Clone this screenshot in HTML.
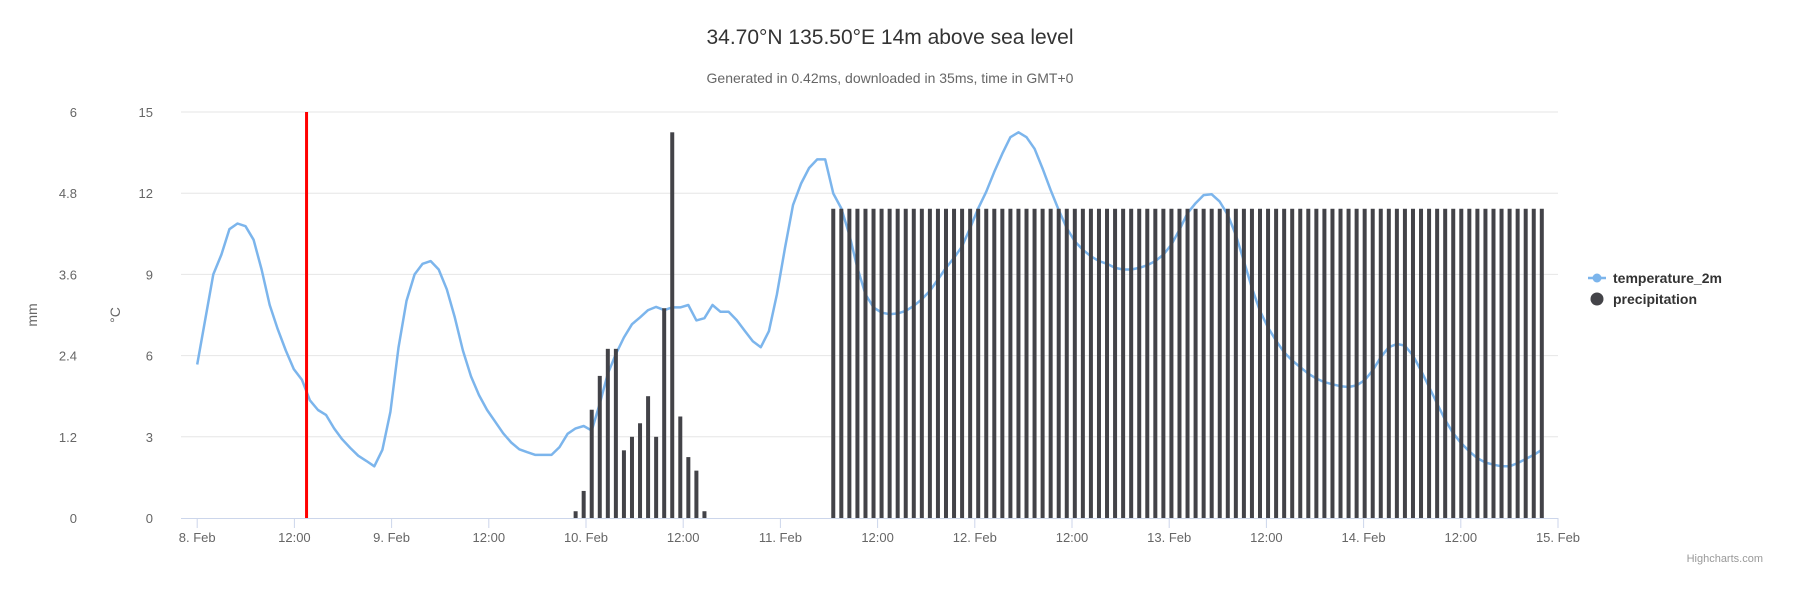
<!DOCTYPE html>
<html><head><meta charset="utf-8">
<style>
body{margin:0;background:#fff;}
svg{display:block;font-family:"Liberation Sans",sans-serif;}
</style></head>
<body>
<svg id="chart" width="1805" height="595" viewBox="0 0 1805 595" xmlns="http://www.w3.org/2000/svg">
<text x="890" y="44" text-anchor="middle" font-size="21" fill="#333">34.70°N 135.50°E 14m above sea level</text>
<text x="890" y="83" text-anchor="middle" font-size="14" fill="#666">Generated in 0.42ms, downloaded in 35ms, time in GMT+0</text>
<g id="grid"></g>
<g id="temp"></g>
<g id="bars"></g>
<g id="axes"></g>
<text transform="translate(37,315) rotate(-90)" text-anchor="middle" font-size="14" fill="#666">mm</text>
<text transform="translate(120,315) rotate(-90)" text-anchor="middle" font-size="14" fill="#666">°C</text>
<g>
<g>
<line x1="1588" y1="278" x2="1606" y2="278" stroke="#7cb5ec" stroke-width="2.5"/>
<circle cx="1597" cy="278" r="4.5" fill="#7cb5ec"/>
<text x="1613" y="283" font-size="14" font-weight="bold" fill="#333">temperature_2m</text>
</g>
<g>
<circle cx="1597" cy="299" r="6.5" fill="#434348"/>
<text x="1613" y="304" font-size="14" font-weight="bold" fill="#333">precipitation</text>
</g>
</g>
<text x="1763" y="562" text-anchor="end" font-size="11" fill="#999">Highcharts.com</text>
</svg>
<script>
const tempValues=[5.67,7.35,9.0,9.73,10.67,10.88,10.78,10.28,9.18,7.87,6.98,6.19,5.5,5.11,4.35,3.99,3.81,3.31,2.91,2.59,2.3,2.11,1.91,2.52,
3.92,6.3,8.02,9.0,9.39,9.49,9.18,8.45,7.41,6.19,5.23,4.54,3.99,3.56,3.13,2.79,2.54,2.43,2.33,2.33,2.33,2.62,3.11,3.31,
3.4,3.23,4.23,5.33,6.06,6.67,7.16,7.41,7.68,7.8,7.68,7.78,7.78,7.87,7.3,7.38,7.87,7.62,7.62,7.31,6.92,6.53,6.31,6.9,
8.26,9.98,11.56,12.36,12.93,13.25,13.25,11.99,11.44,10.46,9.24,8.26,7.78,7.59,7.53,7.56,7.65,7.84,8.08,8.39,8.81,9.24,9.61,10.04,
10.71,11.44,12.05,12.79,13.46,14.07,14.25,14.07,13.64,12.91,12.11,11.38,10.71,10.22,9.91,9.67,9.49,9.39,9.24,9.18,9.18,9.24,9.34,9.49,
9.73,10.1,10.65,11.26,11.63,11.93,11.96,11.69,11.2,10.46,9.49,8.5,7.65,7.04,6.55,6.12,5.82,5.57,5.33,5.15,5.02,4.94,4.87,4.84,
4.9,5.09,5.45,5.94,6.31,6.43,6.37,6.0,5.45,4.84,4.23,3.62,3.13,2.76,2.46,2.21,2.05,1.97,1.91,1.91,2.03,2.18,2.33,2.52];
const precipHours=[47,48,49,50,51,52,53,54,55,56,57,58,59,60,61,62,63];
const precipValues=[0.1,0.4,1.6,2.1,2.5,2.5,1.0,1.2,1.4,1.8,1.2,3.1,5.7,1.5,0.9,0.7,0.1];
const denseStart=79, denseEnd=167, denseValue=4.57;
const tempTicks=[0,3,6,9,12,15];
const mmTicks=["0","1.2","2.4","3.6","4.8","6"];
const xTickLabels=["8. Feb","12:00","9. Feb","12:00","10. Feb","12:00","11. Feb","12:00","12. Feb","12:00","13. Feb","12:00","14. Feb","12:00","15. Feb"];
const nowHour=13.5;
const hourStep=166/167;

const NS="http://www.w3.org/2000/svg";
const L=181,R=1558,T=112,B=518,XMIN=-2,XMAX=168;
const x=h=>L+(h-XMIN)*(R-L)/(XMAX-XMIN);
const xi=i=>x(i*hourStep);
const yT=v=>B-v*(B-T)/15;
const yP=v=>B-v*(B-T)/6;
function mk(tag,parent,attrs){const e=document.createElementNS(NS,tag);for(const k in attrs)e.setAttribute(k,attrs[k]);parent.appendChild(e);return e;}
const grid=document.getElementById('grid'),axes=document.getElementById('axes');
tempTicks.forEach((t,i)=>{
  if(i>0){const g=mk('line',grid,{x1:L,x2:R,y1:yT(t),y2:yT(t),stroke:'#e6e6e6','stroke-width':1});
  
  }
  const a=mk('text',axes,{x:153,y:yT(t)+5,'text-anchor':'end','font-size':13,fill:'#666'});a.textContent=t;
  
  
  const b=mk('text',axes,{x:77,y:yT(t)+5,'text-anchor':'end','font-size':13,fill:'#666'});b.textContent=mmTicks[i];
  
  
});
const ax=mk('line',axes,{x1:L,x2:R,y1:B+0.5,y2:B+0.5,stroke:'#ccd6eb','stroke-width':1});


xTickLabels.forEach((lab,i)=>{
  const h=i*12;
  const tk=mk('line',axes,{x1:x(h),x2:x(h),y1:B,y2:B+10,stroke:'#ccd6eb','stroke-width':1});
  
  
  const t=mk('text',axes,{x:x(h),y:B+24,'text-anchor':'middle','font-size':13,fill:'#666'});t.textContent=lab;
  
  
});
const tg=document.getElementById('temp');
const pts=tempValues.map((v,i)=>xi(i).toFixed(1)+','+yT(v).toFixed(1)).join(' ');
const pl=mk('polyline',tg,{points:pts,fill:'none',stroke:'#7cb5ec','stroke-width':2.5,'stroke-linejoin':'round'});


const bg=document.getElementById('bars');
function bar(i,v){const r=mk('rect',bg,{x:xi(i)-2,y:yP(v),width:4,height:B-yP(v),fill:'#434348'});
  
  }
precipHours.forEach((h,i)=>bar(h,precipValues[i]));
for(let h=denseStart;h<=denseEnd;h++)bar(h,denseValue);
const nl=mk('line',axes,{x1:x(nowHour),x2:x(nowHour),y1:T,y2:B,stroke:'#ff0000','stroke-width':3});


</script>
</body></html>
